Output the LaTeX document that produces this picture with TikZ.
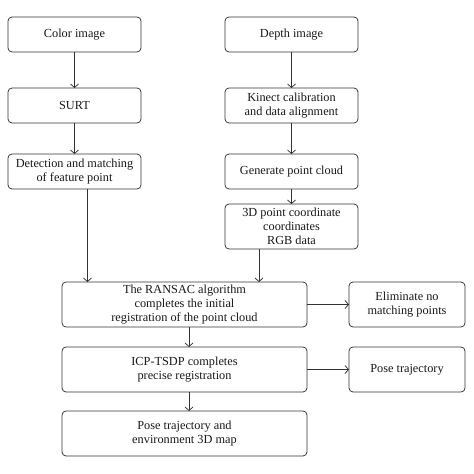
\documentclass[tikz,border=0pt]{standalone}
\usepackage{fontspec}
\setmainfont{Liberation Serif}
\usepackage{tikz}
\usetikzlibrary{arrows.meta}

\tikzset{
    stepbox/.style={draw=black!80, line width=0.75pt, rounded corners=4pt, align=center,
        minimum height=35pt, inner sep=1pt, outer sep=0pt, text=black!90,
        font=\fontsize{12.3}{14}\selectfont},
    narrow/.style={stepbox, minimum width=133pt},
    wide/.style={stepbox, minimum width=245pt},
    side/.style={stepbox, minimum width=116pt},
    flow/.style={draw=black!80, line width=0.75pt, -{Straight Barb[length=3.5pt,width=8pt]}}
}

\begin{document}
\begin{tikzpicture}[x=1pt, y=-1pt]
    \useasboundingbox[fill=white] (0,0) rectangle (474,474);

    \node[narrow] (color) at (74.5,34.5) {Color image};
    \node[narrow] (surt) at (74.5,105.5) {SURT};
    \node[narrow] (detect) at (74.5,171.5) {Detection and matching\\of feature point};

    \node[narrow] (depth) at (291.5,34.5) {Depth image};
    \node[narrow] (kinect) at (291.5,105.5) {Kinect calibration\\and data alignment};
    \node[narrow] (cloud) at (291.5,171.5) {Generate point cloud};
    \node[narrow, minimum height=45pt] (coord) at (291.5,226.5) {3D point coordinate\\coordinates\\RGB data};

    \node[wide, minimum height=45pt] (ransac) at (184.5,304.5) {The RANSAC algorithm\\completes the initial\\registration of the point cloud};
    \node[side, minimum height=45pt] (elim) at (407,304.5) {Eliminate no\\matching points};
    \node[wide, minimum height=45pt] (icp) at (184.5,369.5) {ICP-TSDP completes\\precise registration};
    \node[side, minimum height=45pt] (pose) at (407,369.5) {Pose trajectory};
    \node[wide, minimum height=45pt] (map) at (184.5,433.5) {Pose trajectory and\\environment 3D map};

    \draw[flow] (color) -- (surt);
    \draw[flow] (surt) -- (detect);
    \draw[flow] (depth) -- (kinect);
    \draw[flow] (kinect) -- (cloud);
    \draw[flow] (cloud) -- (coord);

    \draw[flow] ([xshift=13pt]detect.south) -- ([xshift=13pt]detect.south |- ransac.north);
    \draw[flow] ([xshift=-32.5pt]coord.south) -- ([xshift=-32.5pt]coord.south |- ransac.north);

    \draw[flow] ([xshift=4.5pt]ransac.south) -- ([xshift=4.5pt]icp.north);
    \draw[flow] ([xshift=4.5pt]icp.south) -- ([xshift=4.5pt]map.north);
    \draw[flow] (ransac) -- (elim);
    \draw[flow] (icp) -- (pose);
\end{tikzpicture}
\end{document}
